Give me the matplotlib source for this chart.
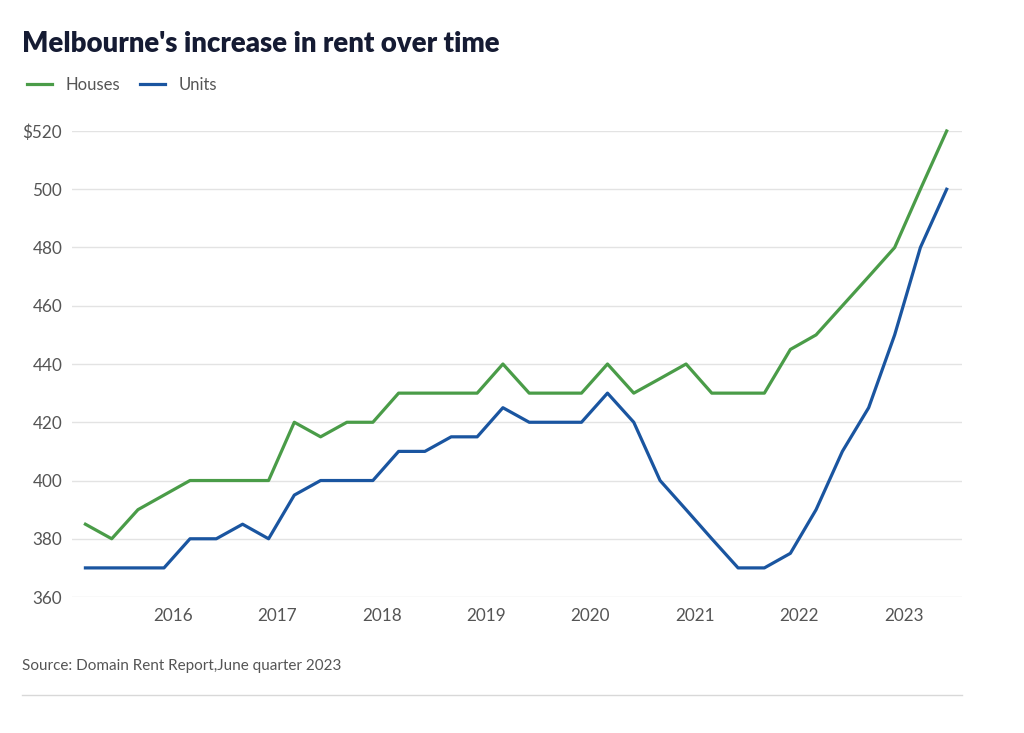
import numpy as np
import pandas as pd
import matplotlib
matplotlib.use("Agg")
import matplotlib.pyplot as plt
import matplotlib.dates as mdates

# quarterly median weekly rent, Mar 2015 - Jun 2023
quarters = pd.date_range("2015-03-01", periods=34, freq="QS-MAR")
houses = [385, 380, 390, 395, 400, 400, 400, 400, 420, 415, 420, 420, 430, 430, 430, 430, 440,
          430, 430, 430, 440, 430, 435, 440, 430, 430, 430, 445, 450, 460, 470, 480, 500, 520]
units = [370, 370, 370, 370, 380, 380, 385, 380, 395, 400, 400, 400, 410, 410, 415, 415, 425,
         420, 420, 420, 430, 420, 400, 390, 380, 370, 370, 375, 390, 410, 425, 450, 480, 500]
y_ticks = [360, 380, 400, 420, 440, 460, 480, 500, 520]
years = list(range(2016, 2024))

green = "#4a9c48"
blue = "#1a55a0"
grey = "#555555"

plt.rcParams['font.family'] = ['Lato', 'DejaVu Sans']

fig = plt.figure(figsize=(10.24, 7.33), dpi=100)
ax = fig.add_axes([0.0703, 0.1855, 0.8687, 0.6358])

ax.plot(quarters, houses, color=green, lw=2.3, label="Houses", clip_on=False, zorder=3)
ax.plot(quarters, units, color=blue, lw=2.3, label="Units", clip_on=False, zorder=3)

ax.set_ylim(360, 520)
ax.set_yticks(y_ticks)
ax.set_yticklabels(["$" + str(v) if v == 520 else str(v) for v in y_ticks])
ax.set_xlim(pd.Timestamp("2015-01-13"), pd.Timestamp("2023-07-23"))
ax.set_xticks([pd.Timestamp(f"{y}-01-01") for y in years])
ax.set_xticklabels([str(y) for y in years])

ax.grid(axis="y", color="#e3e3e3", lw=1)
ax.set_axisbelow(True)
for s in ax.spines.values():
    s.set_visible(False)
ax.tick_params(length=0, labelsize=12.3, colors=grey, pad=8)
ax.tick_params(axis="y", pad=7)

fig.text(0.0215, 0.94, "Melbourne's increase in rent over time", fontsize=19.8, fontweight="heavy",
         color="#151b33", va="center")
ax.legend(loc="center left", bbox_to_anchor=(0.012, 0.884), bbox_transform=fig.transFigure,
          ncol=2, frameon=False, fontsize=12, handlelength=1.5, handletextpad=0.8,
          columnspacing=1.2, labelcolor=grey)

fig.text(0.0215, 0.091, "Source: Domain Rent Report,June quarter 2023", fontsize=11,
         color=grey, va="center")
fig.add_artist(plt.Line2D([0.0215, 0.939], [0.052, 0.052], color="#d8d8d8", lw=1,
                          transform=fig.transFigure))

fig.savefig("out.png", dpi=100)
